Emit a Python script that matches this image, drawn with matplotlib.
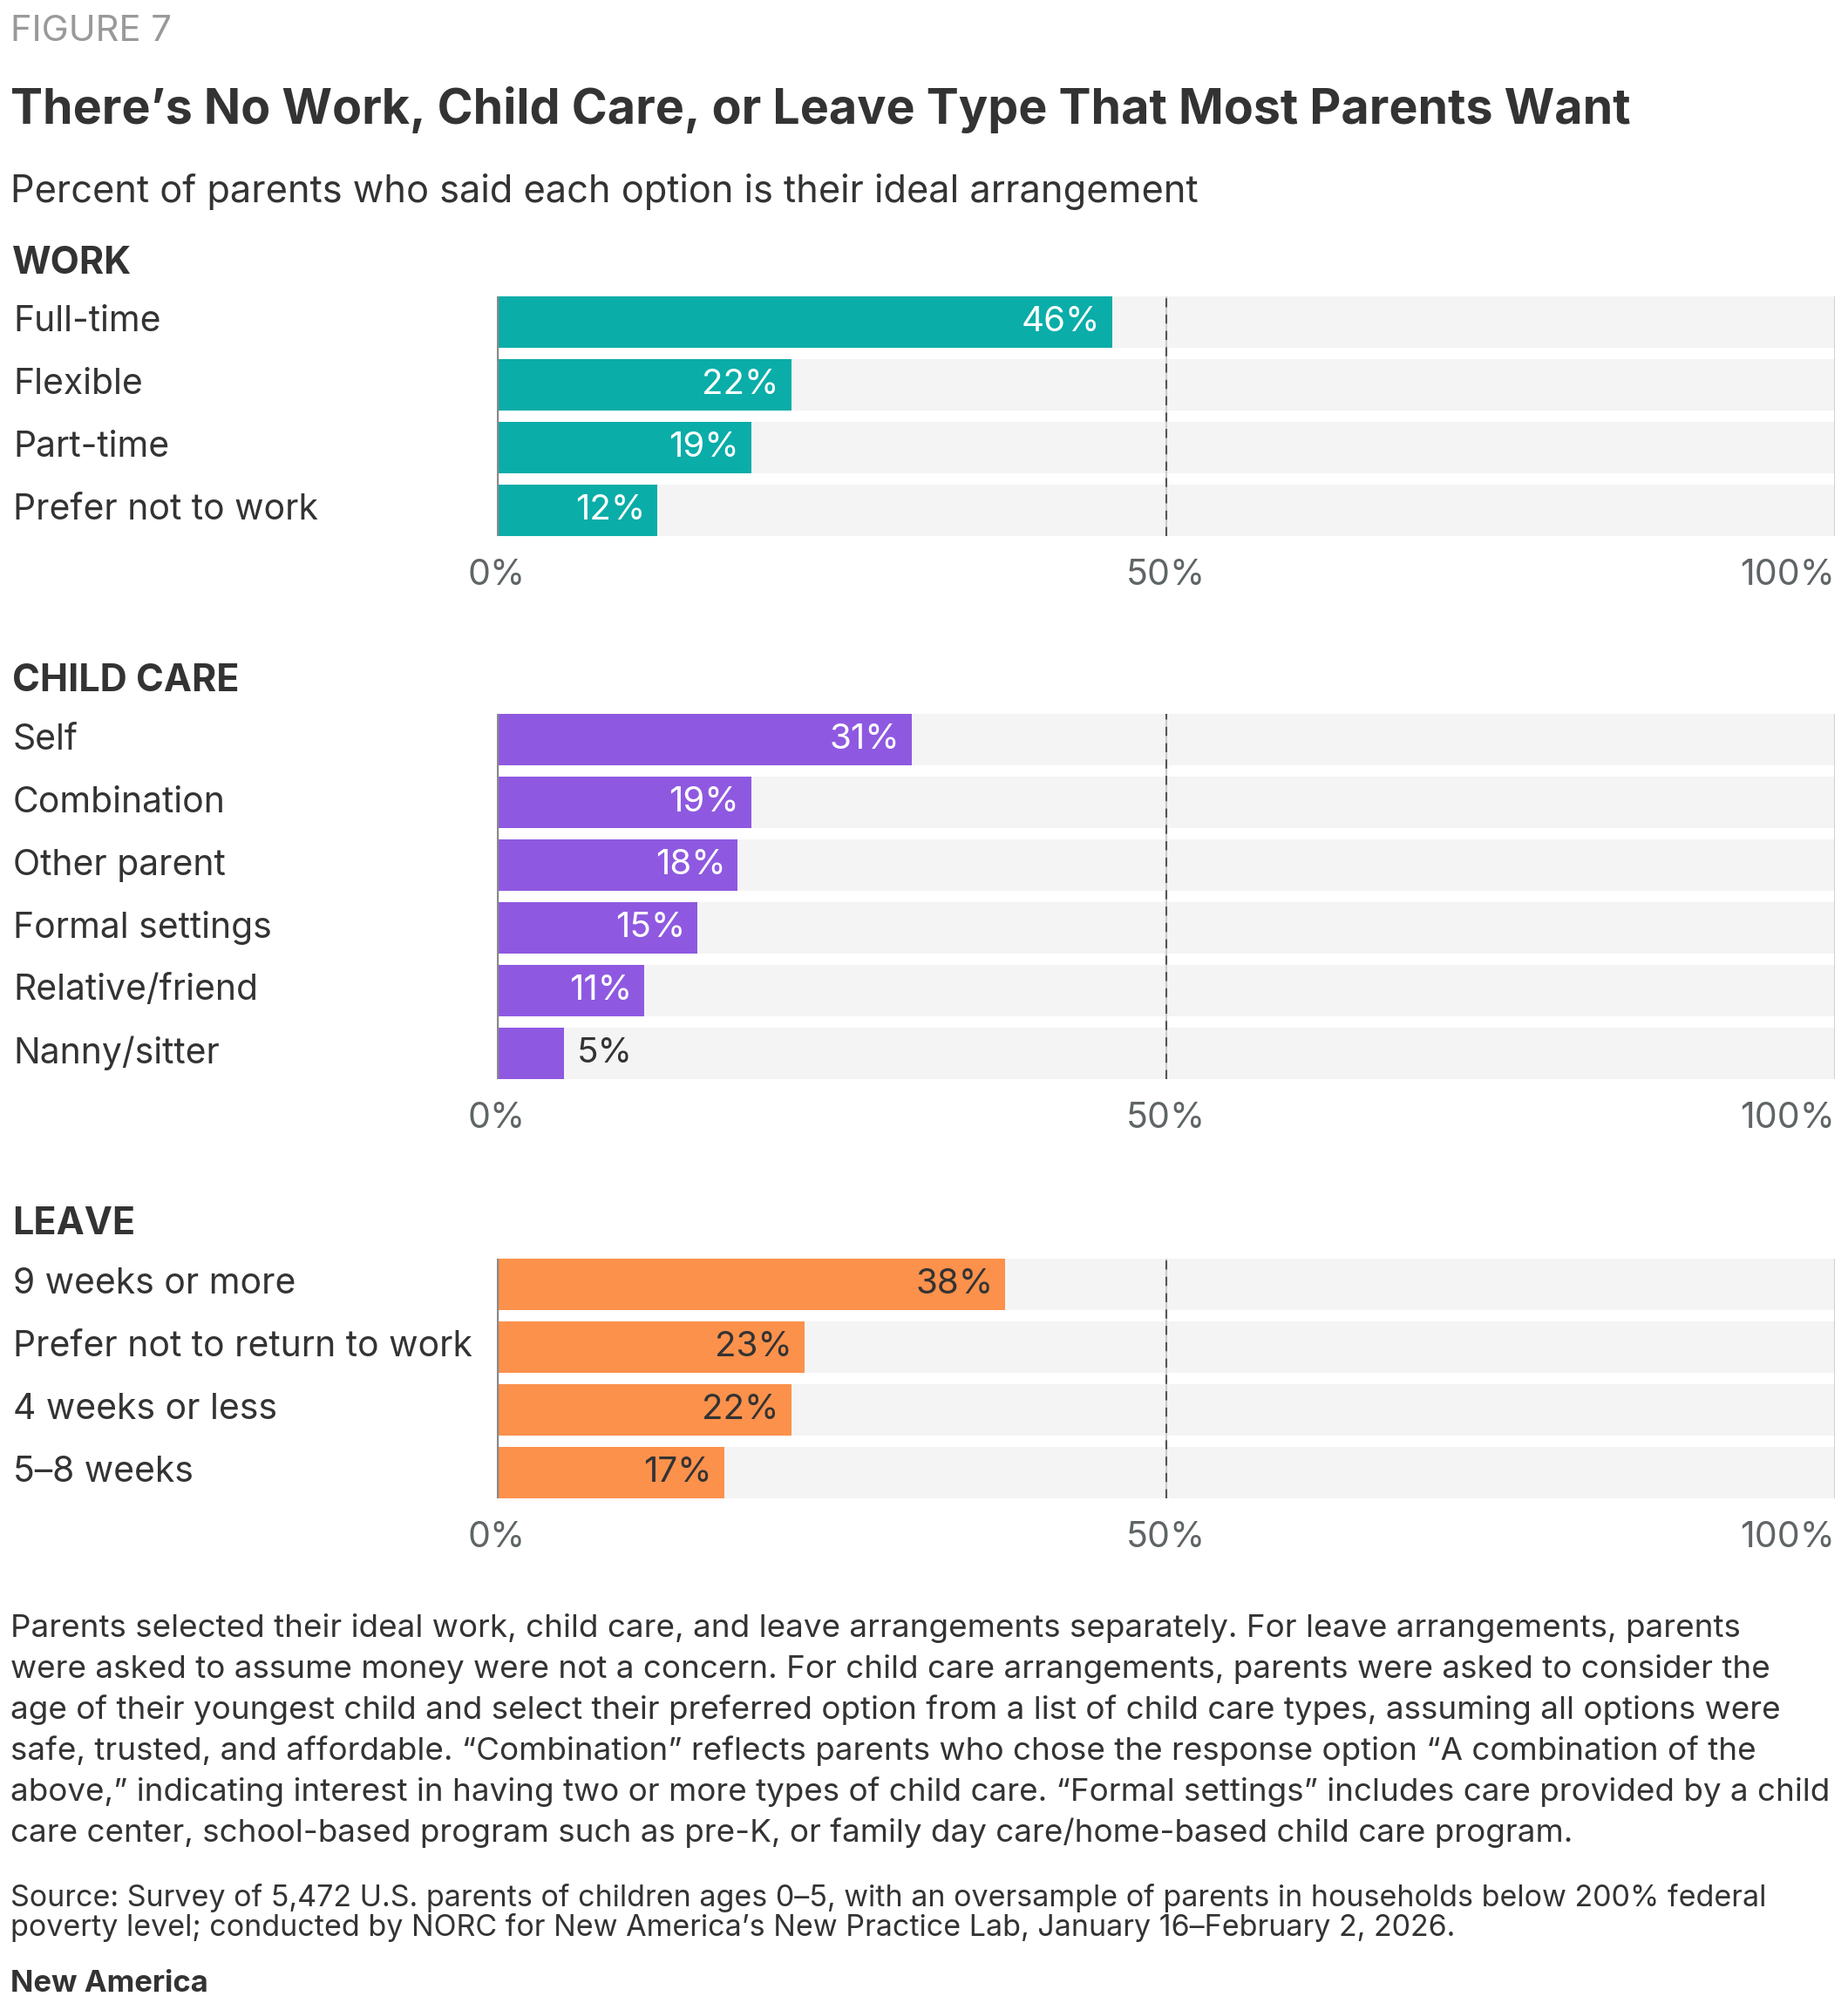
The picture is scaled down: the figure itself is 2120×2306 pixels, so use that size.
import matplotlib.pyplot as plt
from matplotlib.transforms import blended_transform_factory

# data
work_labels = ["Full-time", "Flexible", "Part-time", "Prefer not to work"]
work_values = [46, 22, 19, 12]
care_labels = ["Self", "Combination", "Other parent", "Formal settings",
               "Relative/friend", "Nanny/sitter"]
care_values = [31, 19, 18, 15, 11, 5]
leave_labels = ["9 weeks or more", "Prefer not to return to work",
                "4 weeks or less", "5\u20138 weeks"]
leave_values = [38, 23, 22, 17]
tick_values = [0, 50, 100]
tick_labels = ["0%", "50%", "100%"]

W, H = 2120, 2306
FONT = "Inter"
DARK = "#333333"
plt.rcParams["font.family"] = [FONT, "DejaVu Sans"]

fig = plt.figure(figsize=(W / 100, H / 100), dpi=100)
fig.patch.set_facecolor("white")

ROW = 72.0   # px per row
BAR_H = 59.0 / ROW
X0, X1 = 570, 2105


def px_text(x, y, s, **kw):
    fig.text(x / W, 1 - y / H, s, **kw)


def panel(top, header, header_y, labels, values, color, txt_color):
    n = len(labels)
    height = (n - 1 + BAR_H) * ROW
    ax = fig.add_axes([X0 / W, 1 - (top + height) / H, (X1 - X0) / W, height / H])
    ys = list(range(n))
    ax.barh(ys, [100] * n, height=BAR_H, color="#f4f4f4", zorder=1)
    ax.barh(ys, values, height=BAR_H, color=color, zorder=2)
    ax.set_xlim(0, 100)
    ax.set_ylim(n - 1 + BAR_H / 2, -BAR_H / 2)
    ax.axvline(50, color="#cccccc", lw=1.5, zorder=3)
    ax.axvline(100, color="#cccccc", lw=2, zorder=3)
    ax.axvline(50, color="#555555", lw=1.5, ls=(0, (5, 4)), zorder=4)
    ax.axvline(0, color="#8a8a8a", lw=2.5, zorder=5)
    for s in ax.spines.values():
        s.set_visible(False)
    ax.set_yticks([])
    ax.set_xticks(tick_values)
    ax.set_xticklabels(tick_labels, fontsize=29.5, color="#5f6566")
    ax.get_xticklabels()[-1].set_horizontalalignment("right")
    ax.tick_params(axis="x", length=0, pad=19)
    for y, v, lab in zip(ys, values, labels):
        if v >= 8:
            ax.annotate(f"{v}%", (v, y), xytext=(-10, 0), textcoords="offset points",
                        ha="right", va="center", fontsize=29, color=txt_color, zorder=6)
        else:
            ax.annotate(f"{v}%", (v, y), xytext=(11, 0), textcoords="offset points",
                        ha="left", va="center", fontsize=29, color=DARK, zorder=6)
        tr = blended_transform_factory(fig.transFigure, ax.transData)
        ax.text(15 / W, y, lab, transform=tr, ha="left", va="center",
                fontsize=29.4, color=DARK)
    px_text(14, header_y, header, fontsize=31, fontweight="bold", color=DARK,
            va="center", ha="left")
    return ax


panel(339.6, "WORK", 302, work_labels, work_values, "#0aada8", "white")
panel(819, "CHILD CARE", 782, care_labels, care_values, "#8e59e0", "white")
panel(1444, "LEAVE", 1405, leave_labels, leave_values, "#fc914c", DARK)

# header text
px_text(12, 36, "FIGURE 7", fontsize=30, color="#999999", va="center")
px_text(12, 126, "There\u2019s No Work, Child Care, or Leave Type That Most Parents Want",
        fontsize=40, fontweight="bold", color=DARK, va="center")
px_text(12, 220, "Percent of parents who said each option is their ideal arrangement",
        fontsize=31.2, color=DARK, va="center")

note_lines = [
    "Parents selected their ideal work, child care, and leave arrangements separately. For leave arrangements, parents",
    "were asked to assume money were not a concern. For child care arrangements, parents were asked to consider the",
    "age of their youngest child and select their preferred option from a list of child care types, assuming all options were",
    "safe, trusted, and affordable. \u201cCombination\u201d reflects parents who chose the response option \u201cA combination of the",
    "above,\u201d indicating interest in having two or more types of child care. \u201cFormal settings\u201d includes care provided by a child",
    "care center, school-based program such as pre-K, or family day care/home-based child care program.",
]
for i, line in enumerate(note_lines):
    px_text(12, 1868 + 47 * i, line, fontsize=26.5, color=DARK, va="center")

source_lines = [
    "Source: Survey of 5,472 U.S. parents of children ages 0\u20135, with an oversample of parents in households below 200% federal",
    "poverty level; conducted by NORC for New America\u2019s New Practice Lab, January 16\u2013February 2, 2026.",
]
for i, line in enumerate(source_lines):
    px_text(12, 2177 + 35 * i, line, fontsize=24.5, color=DARK, va="center")

px_text(12, 2276, "New America", fontsize=25, fontweight="bold", color=DARK, va="center")

fig.savefig("out.png", dpi=100, facecolor="white")
